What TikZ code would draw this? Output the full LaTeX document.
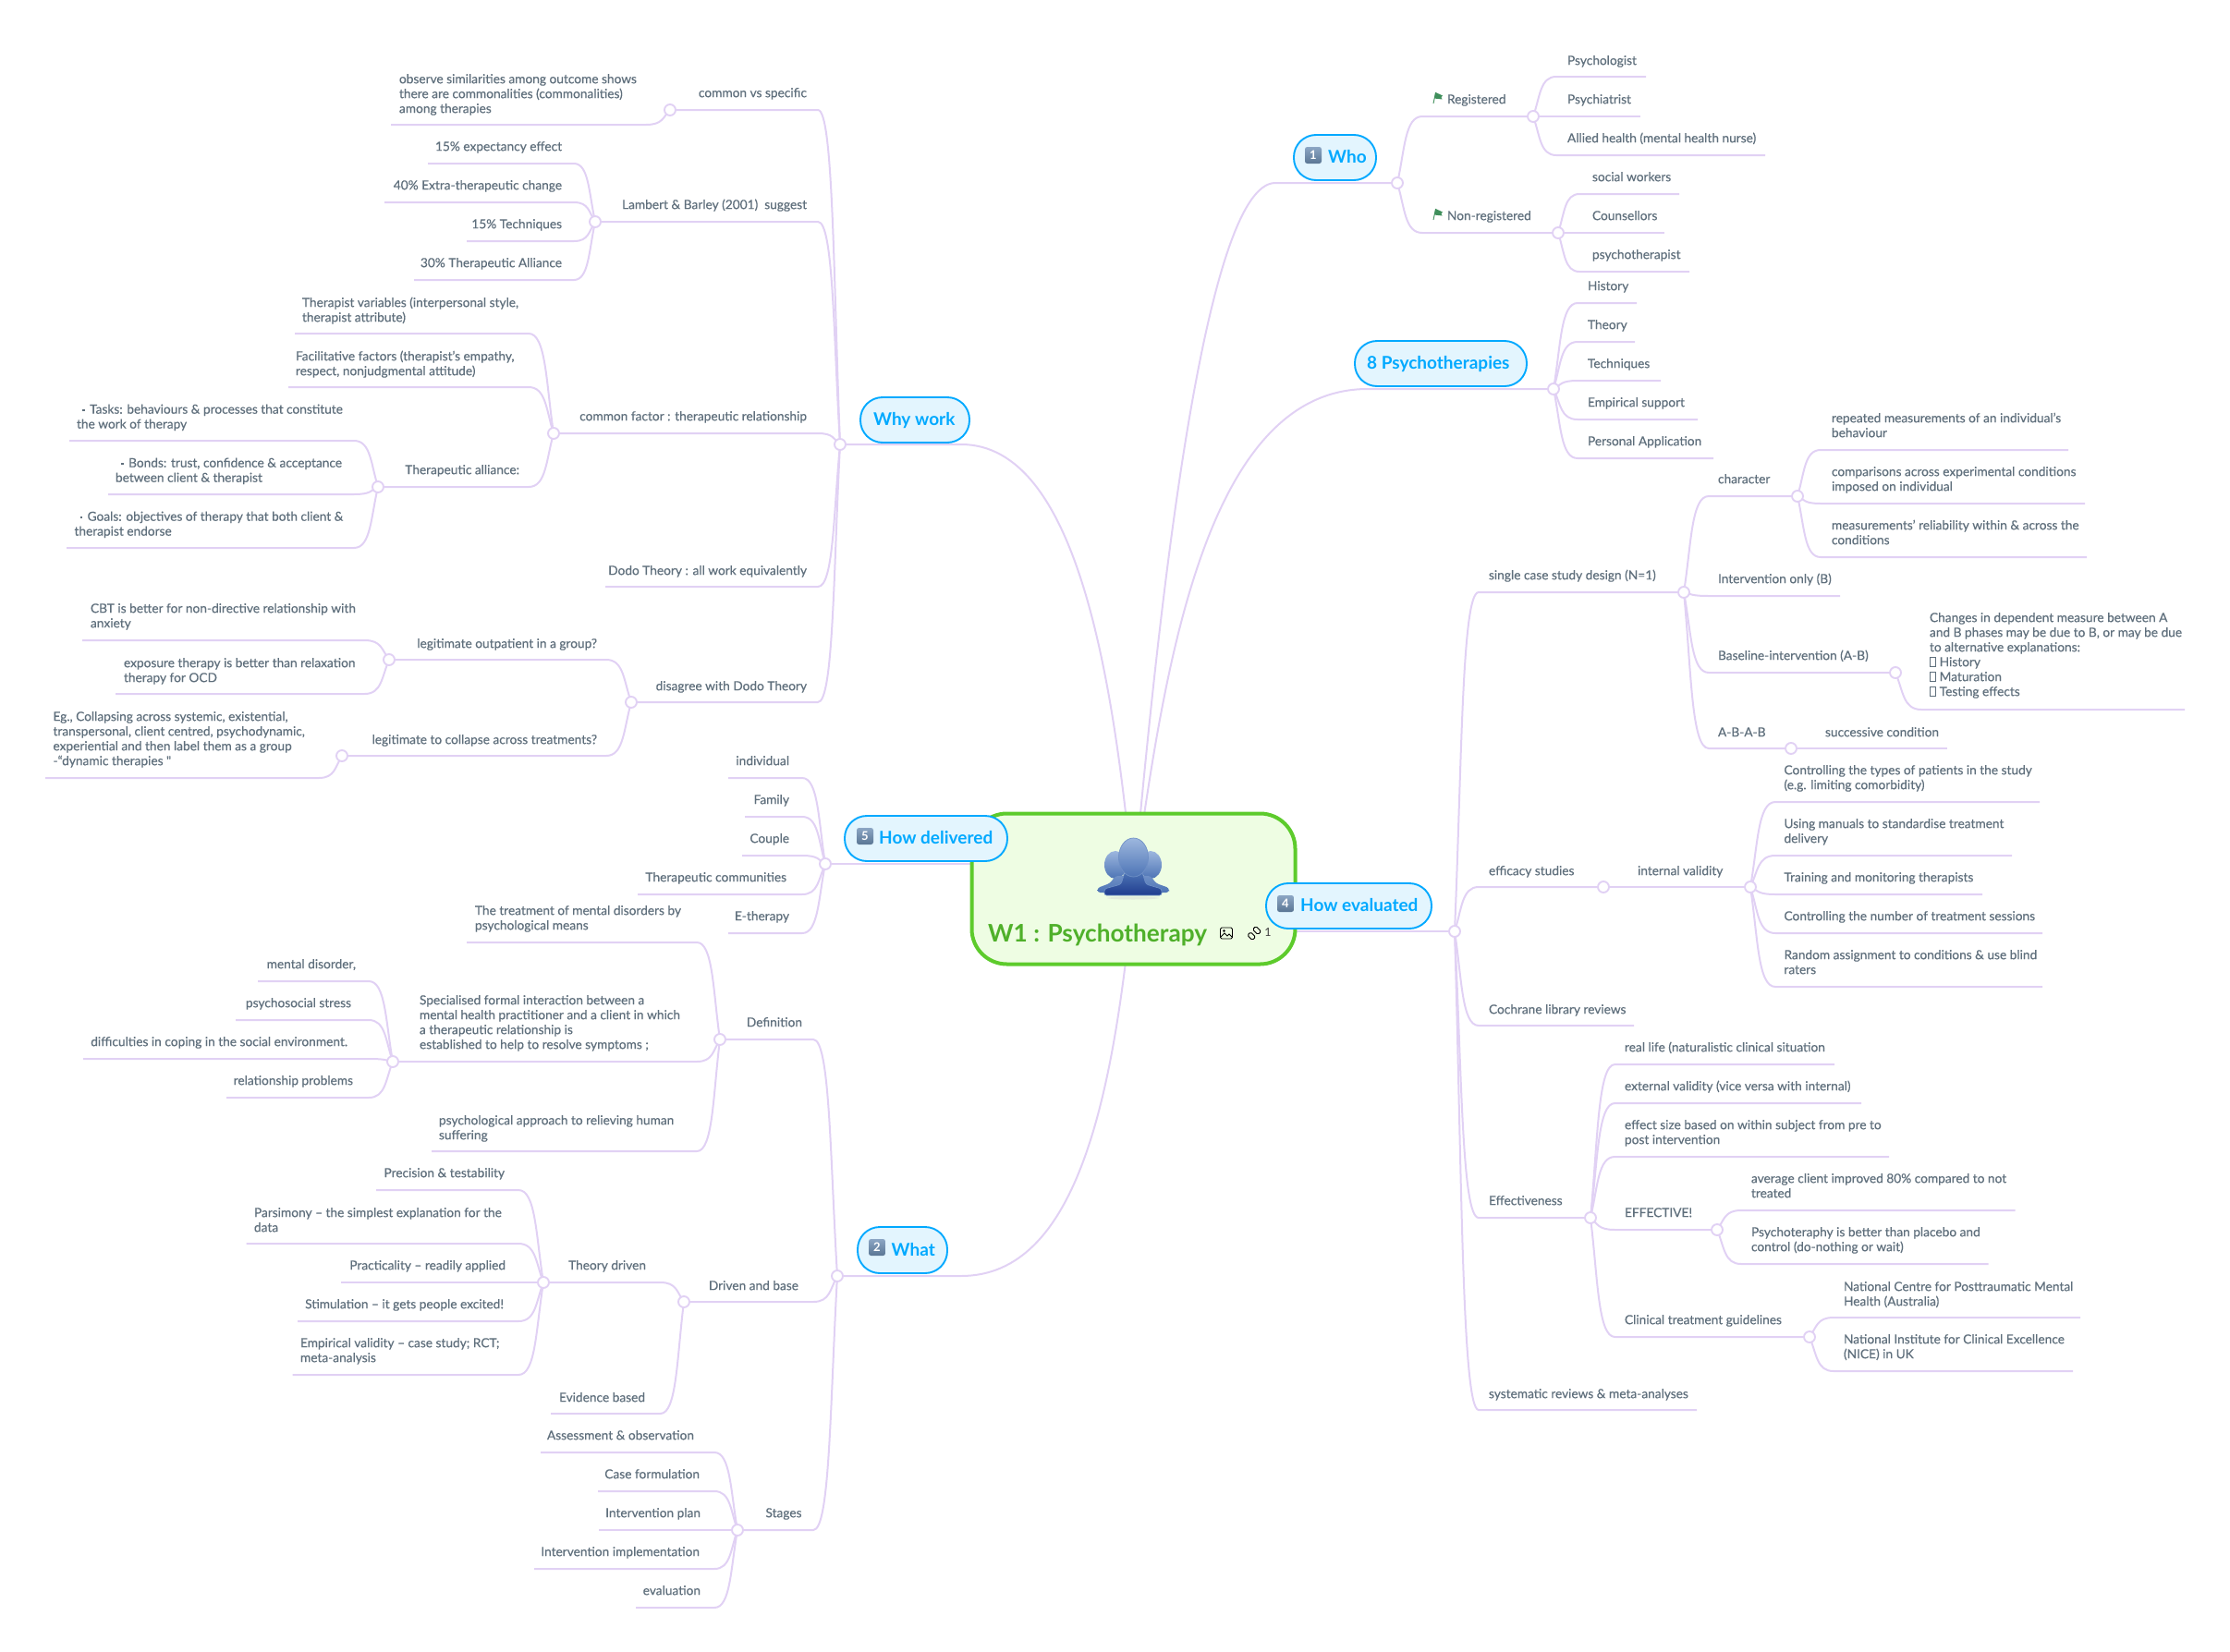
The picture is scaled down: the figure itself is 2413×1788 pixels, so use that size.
\documentclass[tikz,border=0pt]{standalone}
\usepackage{fontspec}
\setmainfont{Lato}
\newfontfamily\leaffont[FakeBold=0.35]{Lato}
\usetikzlibrary{calc}
\pgfdeclarelayer{bg}\pgfsetlayers{bg,main}
\definecolor{lineC}{HTML}{E1D1F4}
\definecolor{textC}{HTML}{5F6F7C}
\definecolor{blueC}{HTML}{00A9FF}
\definecolor{pillC}{HTML}{E3F5FE}
\definecolor{rootE}{HTML}{5DCB2C}
\definecolor{rootF}{HTML}{EEFDE3}
\definecolor{rootT}{HTML}{4FB02A}
\definecolor{flagC}{HTML}{3F8F5B}
\definecolor{HKa}{HTML}{8CA6C4}
\definecolor{HKb}{HTML}{5A7694}
\definecolor{icA}{HTML}{9DB7DE}
\definecolor{icB}{HTML}{4D74B5}
\definecolor{icC}{HTML}{1F3C8E}
\definecolor{icD}{HTML}{6F90C6}
\tikzset{
  conn/.style={draw=lineC,line width=2pt},
  mm/.style={to path={let \p1=(\tikztostart),\p2=(\tikztotarget) in
    .. controls ({\x1+0.3*(\x2-\x1)},{\y1+0.5*(\y2-\y1)}) and ({\x1+0.3*(\x2-\x1)},{\y2}) .. (\tikztotarget)}},
  junc/.style={circle,draw=lineC,fill=white,line width=1.9pt,minimum size=12pt,inner sep=0pt},
  txt/.style={inner sep=0pt,outer sep=0pt,text=textC,align=left,font=\leaffont\fontsize{13.7}{16}\selectfont},
  txtr/.style={txt,align=right},
  pill/.style={draw=blueC,fill=pillC,line width=1.9pt,rounded corners=24pt},
  pilltext/.style={inner sep=0pt,text=blueC,font=\fontsize{19}{20}\selectfont\bfseries,anchor=base west},
  keycap/.style={rounded corners=2.5pt,top color=HKa,bottom color=HKb,text=white,inner sep=0pt,minimum width=18pt,minimum height=18pt,font=\fontsize{13}{13}\selectfont\bfseries}
}
\newcommand\leaf[5]{% id parent near far y
  \coordinate (#1-n) at (#3,#5);
  \coordinate (#1-f) at (#4,#5);
  \begin{pgfonlayer}{bg}\draw[conn] (#2.center) to[mm] (#1-n) -- (#1-f);\end{pgfonlayer}}
\newcommand\jn[1]{\node[junc] (#1-j) at (#1-f) {};}
\newcommand\tx[4]{\node[txt,anchor=north west] (#1-t) at (#2,#3-6.0) {\strut #4};}
\newcommand\txr[4]{\node[txtr,anchor=north east] (#1-t) at (#2,#3-6.0) {\strut #4};}
\newcommand\tofu{{\fboxsep=0pt\fboxrule=.6pt\fbox{\rule{0pt}{10pt}\rule{5.5pt}{0pt}}}\hspace{4pt}}
\newcommand\bul{\rule[2.5pt]{2.6pt}{2.6pt}\hspace{5.5pt}}
\newcommand\flagicon[2]{%
  \draw[flagC,line width=.9pt] (#1-4,#2+6)--(#1-1.5,#2-6);
  \fill[flagC] (#1-1.5,#2-6)--(#1+6,#2-2.5)--(#1+4.5,#2-1)--(#1+5.5,#2+1.5)--(#1-3,#2+.5)--cycle;}
\begin{document}
\begin{tikzpicture}[x=1pt,y=-1pt]
\useasboundingbox (0,0) rectangle (2413,1788);
% root
\node[draw=rootE,fill=rootF,line width=4pt,rounded corners=38pt,minimum width=350pt,minimum height=163pt,inner sep=0pt] (root) at (1226.5,962) {};
% main branches
\coordinate (who-n) at (1380,198); \node[junc] (who-j) at (1512,198) {};
\coordinate (psy-n) at (1480,421); \node[junc] (psy-j) at (1681,421) {};
\coordinate (why-n) at (1040,481); \node[junc] (why-j) at (909,481) {};
\coordinate (wht-n) at (1040,1381); \node[junc] (wht-j) at (906,1381) {};
\node[junc] (del-j) at (893,935) {};
\node[junc] (eva-j) at (1574,1008) {};
\begin{pgfonlayer}{bg}
\draw[conn] (root.center) .. controls (1250,700) and (1300,198) .. (who-n) -- (who-j);
\draw[conn] (root.center) .. controls (1258,740) and (1300,421) .. (psy-n) -- (psy-j);
\draw[conn] (root.center) .. controls (1205,730) and (1165,481) .. (why-n) -- (why-j);
\draw[conn] (root.center) .. controls (1205,1190) and (1165,1381) .. (wht-n) -- (wht-j);
\draw[conn] (root.center) |- (del-j);
\draw[conn] (root.center) |- (eva-j);
\end{pgfonlayer}
% icon: two rear figures, then the front one
\shade[top color=icA,bottom color=icB] (1207,936) ellipse (12 and 15);
\shade[top color=icA,bottom color=icB] (1245,936) ellipse (12 and 15);
\shade[top color=icD,bottom color=icB,rounded corners=3pt] (1187.5,966)--(1187.5,961)--(1201,956)--(1207,948)--(1245,948)--(1251,956)--(1265,961)--(1265,966)--cycle;
\path[top color=icB,bottom color=icC,draw=icD,line width=.7pt,rounded corners=2.5pt] (1195,969)--(1195,962)--(1213,957)--(1217,944)--(1236,944)--(1240,957)--(1257,962)--(1257,969)--cycle;
\path[top color=icA,bottom color=icB,draw=icD,line width=.7pt] (1226.5,928) ellipse (16 and 21);
\fill[black!18,opacity=.4] (1226,972) ellipse (28 and 1.5);
% root text + small icons
\node[inner sep=0pt,text=rootT,anchor=base west,font=\fontsize{26.2}{28}\selectfont\bfseries] (rootT) at (1069,1019) {W1 : Psychotherapy};
\draw[black,line width=.9pt,rounded corners=1.5pt] (1320.5,1004) rectangle (1333.5,1016);
\draw[black,line width=.8pt] (1321,1014)--(1325,1010)--(1328,1013)--(1330,1011)--(1333,1014);
\fill[black] (1324.5,1007.5) circle (1.3);
\draw[black,line width=.9pt,rounded corners=1.5pt,rotate around={-45:(1354,1013)}] (1350.5,1010.5) rectangle (1358,1015.5);
\draw[black,line width=.9pt,rounded corners=1.5pt,rotate around={-45:(1360,1007)}] (1356,1004.5) rectangle (1364,1009.5);
\node[inner sep=0pt,text=black!75,font=\fontsize{12.5}{14}\selectfont] (lnk) at (1372,1009) {1};
% pills
\draw[pill] (1400,146) rectangle (1489,195);
\node[keycap] (kw) at (1421,168) {1};
\node[pilltext] (whoT) at (1437,176.5) {Who};
\draw[pill] (1466,369) rectangle (1652,418);
\node[pilltext] (psyT) at (1479,399) {8 Psychotherapies};
\draw[pill] (931,430) rectangle (1049,479);
\node[pilltext] (whyT) at (945,460) {Why work};
\draw[pill] (914,883) rectangle (1090,932);
\node[keycap] (kd) at (936,905) {5};
\node[pilltext] (delT) at (951,913.5) {How delivered};
\draw[pill] (928,1328) rectangle (1025,1378);
\node[keycap] (ka) at (949,1350) {2};
\node[pilltext] (whtT) at (964.5,1359) {What};
\draw[pill] (1370,956) rectangle (1549,1005);
\node[keycap] (ke) at (1391,978) {4};
\node[pilltext] (evaT) at (1407,986.5) {How evaluated};
% ---- Who
\leaf{reg}{who-j}{1539}{1659}{126}\jn{reg}
\flagicon{1555}{106}\tx{reg}{1566}{107}{Registered}
\leaf{nreg}{who-j}{1539}{1686}{252}\jn{nreg}
\flagicon{1555}{232}\tx{nreg}{1566}{233}{Non-registered}
\leaf{r1}{reg-j}{1684}{1781}{83}\tx{r1}{1696}{65}{Psychologist}
\leaf{r2}{reg-j}{1684}{1775}{126}\tx{r2}{1696}{107}{Psychiatrist}
\leaf{r3}{reg-j}{1684}{1910}{168}\tx{r3}{1696}{149}{Allied health (mental health nurse)}
\leaf{n1}{nreg-j}{1709}{1817}{210}\tx{n1}{1723}{191}{social workers}
\leaf{n2}{nreg-j}{1709}{1801}{252}\tx{n2}{1723}{233}{Counsellors}
\leaf{n3}{nreg-j}{1709}{1828}{294}\tx{n3}{1723}{275}{psychotherapist}
% ---- 8 Psychotherapies
\leaf{p1}{psy-j}{1707}{1771}{328}\tx{p1}{1718}{309}{History}
\leaf{p2}{psy-j}{1707}{1769}{370}\tx{p2}{1718}{351}{Theory}
\leaf{p3}{psy-j}{1707}{1797}{412}\tx{p3}{1718}{393}{Techniques}
\leaf{p4}{psy-j}{1707}{1837}{454}\tx{p4}{1718}{435}{Empirical support}
\leaf{p5}{psy-j}{1707}{1854}{496}\tx{p5}{1718}{477}{Personal Application}
% ---- How evaluated
\leaf{sc}{eva-j}{1600}{1822}{641}\jn{sc}\tx{sc}{1611}{622}{single case study design (N=1)}
\leaf{ch}{sc-j}{1849}{1945}{537}\jn{ch}\tx{ch}{1859}{518}{character}
\leaf{c1}{ch-j}{1970}{2238}{487}\tx{c1}{1982}{452}{repeated measurements of an individual’s\\behaviour}
\leaf{c2}{ch-j}{1970}{2256}{545}\tx{c2}{1982}{510}{comparisons across experimental conditions\\imposed on individual}
\leaf{c3}{ch-j}{1970}{2258}{603}\tx{c3}{1982}{568}{measurements’ reliability within \& across the\\conditions}
\leaf{io}{sc-j}{1849}{1991}{645}\tx{io}{1859}{626}{Intervention only (B)}
\leaf{bl}{sc-j}{1849}{2051}{728}\jn{bl}\tx{bl}{1859}{709}{Baseline-intervention (A-B)}
\leaf{b1}{bl-j}{2079}{2364}{768}\tx{b1}{2088}{668}{Changes in dependent measure between A\\and B phases may be due to B, or may be due\\to alternative explanations:\\\tofu History\\\tofu Maturation\\\tofu Testing effects}
\leaf{ab}{sc-j}{1849}{1938}{810}\jn{ab}\tx{ab}{1859}{792}{A-B-A-B}
\leaf{a1}{ab-j}{1938}{2107}{810}\tx{a1}{1975}{792}{successive condition}
\leaf{ef}{eva-j}{1600}{1735}{960}\jn{ef}\tx{ef}{1611}{942}{efficacy studies}
\leaf{iv}{ef-j}{1735}{1894}{960}\jn{iv}\tx{iv}{1772}{942}{internal validity}
\leaf{i1}{iv-j}{1921}{2207}{868}\tx{i1}{1930.5}{833}{Controlling the types of patients in the study\\(e.g. limiting comorbidity)}
\leaf{i2}{iv-j}{1921}{2177}{926}\tx{i2}{1930.5}{891}{Using manuals to standardise treatment\\delivery}
\leaf{i3}{iv-j}{1921}{2145}{968}\tx{i3}{1930.5}{949}{Training and monitoring therapists}
\leaf{i4}{iv-j}{1921}{2210}{1010}\tx{i4}{1930.5}{991}{Controlling the number of treatment sessions}
\leaf{i5}{iv-j}{1921}{2210}{1068}\tx{i5}{1930.5}{1033}{Random assignment to conditions \& use blind\\raters}
\leaf{co}{eva-j}{1600}{1768}{1110}\tx{co}{1611}{1092}{Cochrane library reviews}
\leaf{en}{eva-j}{1600}{1721}{1318}\jn{en}\tx{en}{1611}{1299}{Effectiveness}
\leaf{e1}{en-j}{1747.5}{1985}{1152}\tx{e1}{1758}{1133}{real life (naturalistic clinical situation}
\leaf{e2}{en-j}{1747.5}{2014}{1194}\tx{e2}{1758}{1175}{external validity (vice versa with internal)}
\leaf{e3}{en-j}{1747.5}{2044}{1252}\tx{e3}{1758}{1217}{effect size based on within subject from pre to\\post intervention}
\leaf{e4}{en-j}{1747.5}{1858}{1331}\jn{e4}\tx{e4}{1758}{1312}{EFFECTIVE!}
\leaf{f1}{e4-j}{1884}{2180.5}{1310}\tx{f1}{1895}{1275}{average client improved 80\% compared to not\\treated}
\leaf{f2}{e4-j}{1884}{2151.5}{1368}\tx{f2}{1895}{1333}{Psychoteraphy is better than placebo and\\control (do-nothing or wait)}
\leaf{e5}{en-j}{1747.5}{1958}{1447}\jn{e5}\tx{e5}{1758}{1428}{Clinical treatment guidelines}
\leaf{g1}{e5-j}{1984}{2251}{1426}\tx{g1}{1995}{1392}{National Centre for Posttraumatic Mental\\Health (Australia)}
\leaf{g2}{e5-j}{1984}{2243}{1484}\tx{g2}{1995}{1449}{National Institute for Clinical Excellence\\(NICE) in UK}
\leaf{sy}{eva-j}{1600}{1836}{1526}\tx{sy}{1611}{1508}{systematic reviews \& meta-analyses}
% ---- Why work
\leaf{cs}{why-j}{885}{725}{119}\jn{cs}\txr{cs}{873}{100}{common vs specific}
\leaf{cs1}{cs-j}{699}{423}{135}\tx{cs1}{432}{85}{observe similarities among outcome shows\\there are commonalities (commonalities)\\among therapies}
\leaf{lb}{why-j}{885}{644}{240}\jn{lb}\txr{lb}{873}{221}{Lambert \& Barley (2001) \ suggest}
\leaf{l1}{lb-j}{621}{463}{177}\txr{l1}{608}{158}{15\% expectancy effect}
\leaf{l2}{lb-j}{621}{416}{219}\txr{l2}{608}{200}{40\% Extra-therapeutic change}
\leaf{l3}{lb-j}{621}{505}{261}\txr{l3}{608}{242}{15\% Techniques}
\leaf{l4}{lb-j}{621}{448}{303}\txr{l4}{608}{284}{30\% Therapeutic Alliance}
\leaf{cf}{why-j}{885}{599}{469}\jn{cf}\txr{cf}{873}{450}{common factor : therapeutic relationship}
\leaf{t1}{cf-j}{572}{319}{361}\tx{t1}{327}{327}{Therapist variables (interpersonal style,\\therapist attribute)}
\leaf{t2}{cf-j}{572}{312}{419}\tx{t2}{320}{385}{Facilitative factors (therapist’s empathy,\\respect, nonjudgmental attitude)}
\leaf{ta}{cf-j}{572}{409}{527}\jn{ta}\txr{ta}{562}{508}{Therapeutic alliance:}
\leaf{a2}{ta-j}{383}{75}{477}\tx{a2}{83}{442.5}{\hspace{6pt}\bul Tasks: behaviours \& processes that constitute\\the work of therapy}
\leaf{a3}{ta-j}{383}{117}{535}\tx{a3}{125}{500.5}{\hspace{6pt}\bul Bonds: trust, confidence \& acceptance\\between client \& therapist}
\leaf{a4}{ta-j}{383}{72}{593}\tx{a4}{80.5}{558.5}{\hspace{6pt}\bul Goals: objectives of therapy that both client \&\\therapist endorse}
\leaf{dd}{why-j}{885}{655}{635}\txr{dd}{873}{617}{Dodo Theory : all work equivalently}
\leaf{dg}{why-j}{885}{683}{760}\jn{dg}\txr{dg}{873}{742}{disagree with Dodo Theory}
\leaf{o0}{dg-j}{656}{421}{714}\jn{o0}\txr{o0}{646}{696}{legitimate outpatient in a group?}
\leaf{o1}{o0-j}{394.5}{89}{693}\tx{o1}{98}{658}{CBT is better for non-directive relationship with\\anxiety}
\leaf{o2}{o0-j}{394.5}{125}{751}\tx{o2}{134}{717}{exposure therapy is better than relaxation\\therapy for OCD}
\leaf{q0}{dg-j}{656}{370}{818}\jn{q0}\txr{q0}{646}{800}{legitimate to collapse across treatments?}
\leaf{q1}{q0-j}{345}{49}{842}\tx{q1}{57.5}{775}{Eg., Collapsing across systemic, existential,\\transpersonal, client centred, psychodynamic,\\experiential and then label them as a group\\-“dynamic therapies "}
% ---- How delivered
\leaf{d1}{del-j}{868}{788}{842}\txr{d1}{854}{823}{individual}
\leaf{d2}{del-j}{868}{806}{884}\txr{d2}{854}{865}{Family}
\leaf{d3}{del-j}{868}{803}{926}\txr{d3}{854}{907}{Couple}
\leaf{d4}{del-j}{868}{690}{968}\txr{d4}{851}{949}{Therapeutic communities}
\leaf{d5}{del-j}{868}{788}{1010}\txr{d5}{854}{991}{E-therapy}
% ---- What
\leaf{df}{wht-j}{880}{779}{1125}\jn{df}\txr{df}{868}{1106}{Definition}
\leaf{x1}{df-j}{754}{505}{1020}\tx{x1}{514}{985}{The treatment of mental disorders by\\psychological means}
\leaf{x2}{df-j}{754}{425}{1149}\jn{x2}\tx{x2}{454}{1082}{Specialised formal interaction between a\\mental health practitioner and a client in which\\a therapeutic relationship is\\established to help to resolve symptoms ;}
\leaf{y1}{x2-j}{399}{279}{1062}\txr{y1}{385}{1043}{mental disorder,}
\leaf{y2}{x2-j}{399}{255}{1104}\txr{y2}{380}{1085}{psychosocial stress}
\leaf{y3}{x2-j}{399}{90}{1146}\txr{y3}{376}{1127}{difficulties in coping in the social environment.}
\leaf{y4}{x2-j}{399}{245}{1188}\txr{y4}{382}{1169}{relationship problems}
\leaf{x3}{df-j}{754}{467}{1246}\tx{x3}{475}{1212}{psychological approach to relieving human\\suffering}
\leaf{db}{wht-j}{880}{740}{1409}\jn{db}\txr{db}{864}{1391}{Driven and base}
\leaf{td}{db-j}{714.5}{588}{1388}\jn{td}\txr{td}{699}{1369}{Theory driven}
\leaf{z1}{td-j}{561}{407}{1288}\txr{z1}{546}{1269}{Precision \& testability}
\leaf{z2}{td-j}{561}{266.5}{1346}\tx{z2}{275}{1312}{Parsimony – the simplest explanation for the\\data}
\leaf{z3}{td-j}{561}{369}{1388}\txr{z3}{547}{1369}{Practicality – readily applied}
\leaf{z4}{td-j}{561}{322}{1430}\txr{z4}{545}{1411}{Stimulation – it gets people excited!}
\leaf{z5}{td-j}{561}{316.5}{1488}\tx{z5}{325}{1453}{Empirical validity – case study; RCT;\\meta-analysis}
\leaf{eb}{db-j}{714.5}{596}{1530}\txr{eb}{698}{1512}{Evidence based}
\leaf{st}{wht-j}{880}{798}{1656}\jn{st}\txr{st}{867.5}{1637}{Stages}
\leaf{s1}{st-j}{773}{585}{1572}\txr{s1}{751}{1553}{Assessment \& observation}
\leaf{s2}{st-j}{773}{647}{1614}\txr{s2}{757}{1595}{Case formulation}
\leaf{s3}{st-j}{773}{648}{1656}\txr{s3}{758}{1637}{Intervention plan}
\leaf{s4}{st-j}{773}{578}{1698}\txr{s4}{757}{1679}{Intervention implementation}
\leaf{s5}{st-j}{773}{688}{1740}\txr{s5}{758}{1721}{evaluation}
\end{tikzpicture}
\end{document}
